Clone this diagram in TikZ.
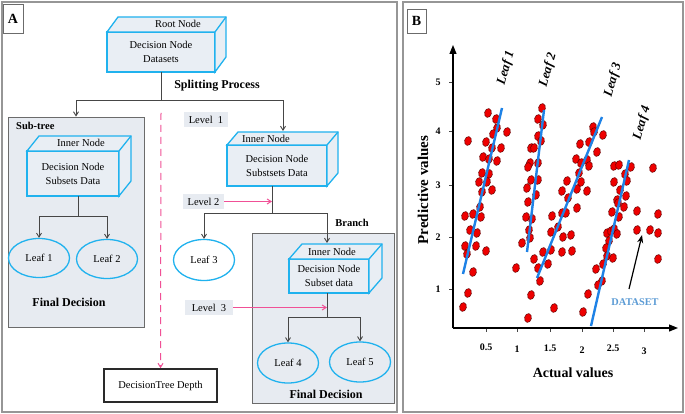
\documentclass[tikz,border=0pt]{standalone}
\usepackage{fontspec}
\setmainfont{Liberation Serif}
\usetikzlibrary{arrows.meta,shapes.geometric,calc}
\definecolor{cyanc}{RGB}{32,178,238}
\definecolor{facec}{RGB}{233,238,244}
\definecolor{panelc}{RGB}{231,235,241}
\definecolor{pinkc}{RGB}{240,80,150}
\definecolor{linec}{RGB}{70,70,70}
\definecolor{framec}{RGB}{150,150,150}
\definecolor{bluel}{RGB}{30,130,230}
\definecolor{dsblue}{RGB}{91,155,213}
\definecolor{dotred}{RGB}{238,0,0}
\definecolor{dotedge}{RGB}{100,0,0}
\newcommand\cubefaces[3]{%
  \filldraw[cubeface] (#1.north west) -- ++(#2,#3) -- ($(#1.north east)+(#2,#3)$)
    -- ($(#1.south east)+(#2,#3)$) -- (#1.south east) -- (#1.north east) -- cycle;
  \draw[cubeface] (#1.north east) -- ($(#1.north east)+(#2,#3)$);}
\begin{document}
\begin{tikzpicture}[x=1pt,y=-1pt,
  txt/.style={font=\fontsize{10.5}{14}\selectfont, inner sep=0pt, align=center},
  bold/.style={font=\bfseries\fontsize{12}{14}\selectfont, inner sep=0pt},
  cubefront/.style={draw=cyanc, line width=1.3pt, fill=facec, outer sep=0pt, inner sep=0pt,
     align=center, font=\fontsize{10.5}{14}\selectfont},
  cubeface/.style={draw=cyanc, line width=1.3pt, fill=facec, line join=miter},
  leaf/.style={ellipse, draw=cyanc, line width=1.3pt, minimum width=61pt, minimum height=39pt,
     inner sep=0pt, font=\fontsize{10.5}{14}\selectfont},
  panel/.style={draw=linec!80, line width=0.9pt, fill=panelc},
  lvl/.style={fill=panelc, inner sep=0pt, minimum height=15pt, font=\fontsize{10.5}{14}\selectfont},
  conn/.style={draw=linec, line width=0.9pt},
  arr/.style={conn, -{Straight Barb[length=4pt,width=5pt]}},
  pinkarr/.style={draw=pinkc, line width=1pt, -{Straight Barb[length=4pt,width=5pt]}},
  frame/.style={draw=framec, line width=1.2pt},
  tag/.style={draw=linec!80, line width=0.9pt, fill=white, inner sep=0pt, font=\bfseries\fontsize{14}{14}\selectfont},
  dot/.style={fill=dotred, draw=dotedge, line width=0.5pt},
  fitline/.style={draw=bluel, line width=2.4pt},
  leaflab/.style={font=\bfseries\itshape\fontsize{13}{14}\selectfont, inner sep=0pt, rotate=74},
  tick/.style={font=\bfseries\fontsize{10}{12}\selectfont, inner sep=0pt}
]
\useasboundingbox (0,0) rectangle (685,414);
\fill[white] (0,0) rectangle (685,414);

% ---------------- Panel A ----------------
\draw[frame] (2,2) rectangle (397,412);
\node[tag, minimum width=20pt, minimum height=29pt] (tagA) at (13,18.5) {A};

% boxes
\node[panel, minimum width=136pt, minimum height=210pt, inner sep=0pt] (subtree) at (76,222) {};
\node[panel, minimum width=142pt, minimum height=170pt, inner sep=0pt] (branch) at (323,318) {};
\node[bold, font=\bfseries\fontsize{10.5}{12}\selectfont, anchor=west] (subtreelbl) at (16,126) {Sub-tree};
\node[bold, font=\bfseries\fontsize{10.5}{12}\selectfont] (branchlbl) at (352,223) {Branch};

% root cube
\node[cubefront, minimum width=108pt, minimum height=40pt] (root) at (161,52) {Decision Node\\Datasets};
\cubefaces{root}{11}{-15}
\node[txt] (rootlbl) at (178,23.5) {Root Node};
\node[bold] (split) at (217,86) {Splitting Process};

% left inner cube
\node[cubefront, minimum width=92pt, minimum height=45pt] (inner1) at (73,173.5) {Decision Node\\Subsets Data};
\cubefaces{inner1}{12}{-15}
\node[txt] (inner1lbl) at (81,143) {Inner Node};

% right inner cube
\node[cubefront, minimum width=100pt, minimum height=41pt] (inner2) at (277,165.5) {Decision Node\\Substsets Data};
\cubefaces{inner2}{11}{-13}
\node[txt] (inner2lbl) at (266,138.5) {Inner Node};

% branch inner cube
\node[cubefront, minimum width=80pt, minimum height=34pt] (inner3) at (329,276) {Decision Node\\Subset data};
\cubefaces{inner3}{13}{-15}
\node[txt] (inner3lbl) at (332,251.5) {Inner Node};

% leaves
\node[leaf] (leaf1) at (39,258) {Leaf 1};
\node[leaf] (leaf2) at (107,259) {Leaf 2};
\node[leaf, minimum height=41pt] (leaf3) at (204,260) {Leaf 3};
\node[leaf, minimum height=40pt] (leaf4) at (288,363) {Leaf 4};
\node[leaf, minimum height=40pt] (leaf5) at (360,362) {Leaf 5};

\node[bold] (fd1) at (69,302) {Final Decision};
\node[bold] (fd2) at (326,394) {Final Decision};

% level labels
\node[lvl, minimum width=44pt] (lvl1) at (206,119.5) {Level\ \ 1};
\node[lvl, minimum width=41pt] (lvl2) at (203.5,201.5) {Level 2};
\node[lvl, minimum width=48pt] (lvl3) at (209,307.5) {Level\ \ 3};

% depth box
\node[draw=linec!60!black, line width=1.6pt, fill=white, minimum width=113pt, minimum height=33pt,
      inner sep=0pt, font=\fontsize{10.5}{14}\selectfont] (depth) at (160.5,385.5) {DecisionTree Depth};

% connectors
\coordinate (j0) at (161,100);
\coordinate (in2top) at (283,131);
\coordinate (j1) at (78,216);
\coordinate (j2) at (272,213);
\coordinate (in3top) at (327,243);
\coordinate (j3) at (327,317);
\coordinate (dtop) at (161,113);

\draw[conn] (root.south) -- (j0);
\draw[arr] (j0) -| (subtree.north);
\draw[arr] (j0) -| (in2top);
\draw[conn] (j1 |- inner1.south) -- (j1);
\draw[arr] (j1) -| (leaf1.north);
\draw[arr] (j1) -| (leaf2.north);
\draw[conn] (j2 |- inner2.south) -- (j2);
\draw[arr] (j2) -| (leaf3.north);
\draw[arr] (j2) -| (in3top);
\draw[conn] (j3 |- inner3.south) -- (j3);
\draw[arr] (j3) -| (leaf4.north);
\draw[arr] (j3) -| (leaf5.north);

\draw[pinkarr] (lvl2.east) -- (lvl2.east -| j2);
\draw[pinkarr] (lvl3.east) -- (lvl3.east -| j3);
\draw[pinkarr, dash pattern=on 7pt off 5pt] (dtop) -- (depth.north);

% ---------------- Panel B ----------------
\draw[frame] (403,2) rectangle (683,412);
\node[tag, minimum width=19pt, minimum height=24pt] (tagB) at (416.5,21) {B};

\coordinate (orig) at (453,328);
\coordinate (yend) at (453,45);
\coordinate (xend) at (678,328);

% ticks
\foreach \v/\yy in {5/82,4/131,3/185,2/237,1/289}{
  \draw[line width=0.8pt, draw=linec] (449,\yy) -- (453,\yy);
  \node[tick] (yt\v) at (438,\yy) {\v};
}
\foreach \v/\xx/\yy in {0.5/486/347,1/517/349,1.5/550/348,2/582/350,2.5/613/348,3/644/351}{
  \draw[line width=0.8pt, draw=linec] (\xx,328) -- (\xx,332);
  \node[tick] (xt\v) at (\xx,\yy) {\v};
}

% dots
\foreach \x/\y in {
488/113,496/119,497/128,507/132,468/141,493/134,486/142,492/148,501/148,483/157,489/159,497/161,
482/173,489/174,479/182,487/182,482/192,492/190,480/207,
465/216,473/214,481/217,470/230,477/233,465/246,476/246,467/254,486/251,473/272,468/293,463/307,
542/108,538/119,543/125,538/136,541/141,531/148,534/148,538/163,530/163,528/167,538/180,531/180,
527/188,536/195,528/202,526/217,532/219,529/230,522/243,530/238,516/268,
534/259,543/252,538/268,548/264,540/281,551/250,551/232,558/227,552/216,562/213,566/213,563/237,
562/252,571/235,572/251,531/295,554/308,528/318,
567/181,562/191,568/198,
593/127,594/132,603/135,589/142,580/144,597/152,576/159,581/163,587/160,589/166,579/173,
581/182,577/189,587/191,577/208,
614/166,619/165,631/167,625/174,614/182,627/181,620/190,626/196,617/200,618/203,624/207,612/212,
637/211,653/168,658/214,
619/217,607/233,611/231,614/229,617/234,609/241,606/248,607/256,613/258,603/264,596/269,602/281,
598/285,588/294,583/312,637/230,650/230,658/233,658/259}
{
  \draw[dot, rotate around={-12:(\x,\y)}] (\x,\y) ellipse [x radius=3.4, y radius=4.5];
}

% fit lines
\draw[fitline] (463,274) -- (502,108);
\draw[fitline] (527,252) -- (544,110);
\draw[fitline] (537,278) -- (602,117);
\draw[fitline] (591,326) -- (629,160);

% axes
\draw[line width=1.1pt, -{Triangle[length=9pt,width=7pt]}] (orig) -- (yend);
\draw[line width=1.1pt, -{Triangle[length=9pt,width=7pt]}] (orig) -- (xend);

% leaf labels
\node[leaflab] (bl1) at (506,68) {Leaf 1};
\node[leaflab] (bl2) at (548,70) {Leaf 2};
\node[leaflab] (bl3) at (613,80) {Leaf 3};
\node[leaflab] (bl4) at (642,123) {Leaf 4};

% dataset
\node[font=\bfseries\fontsize{10.3}{12}\selectfont, text=dsblue, inner sep=0pt] (ds) at (635,302) {DATASET};
\coordinate (dstip) at (642,235);
\draw[line width=1.2pt, -{Stealth[length=8pt,width=6pt]}] (629,289) -- (dstip);

% axis titles
\node[font=\bfseries\fontsize{14}{14}\selectfont, inner sep=0pt] (xlab) at (573,373) {Actual values};
\node[font=\bfseries\fontsize{15}{15}\selectfont, inner sep=0pt, rotate=90] (ylab) at (423,190) {Predictive values};
\end{tikzpicture}
\end{document}
